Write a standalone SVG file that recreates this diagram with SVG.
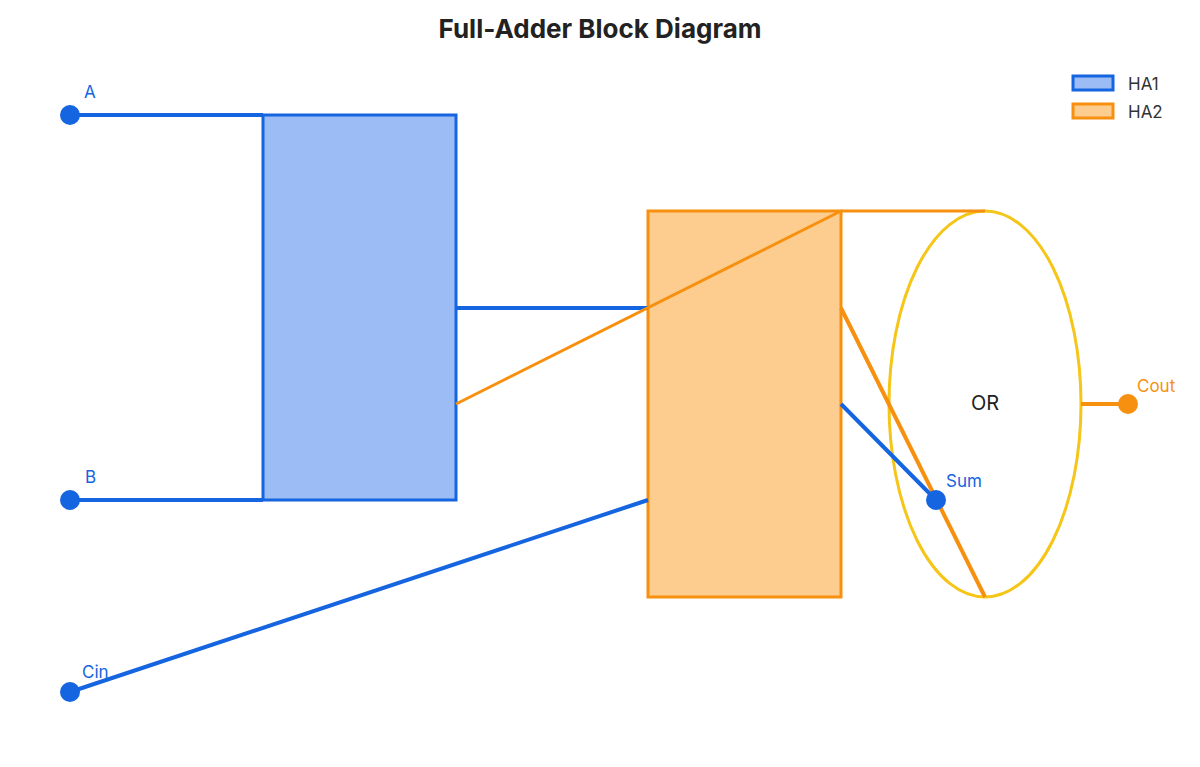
<svg xmlns="http://www.w3.org/2000/svg" width="1200" height="767" viewBox="0 0 1200 767">
<style>
text{font-family:Inter,"Liberation Sans",sans-serif}
.b{stroke:#1565e0}.o{stroke:#f7900e}
.lbl{font-size:17px}
</style>
<rect width="1200" height="767" fill="#fff"/>
<text x="600" y="38" text-anchor="middle" font-size="26" font-weight="bold" fill="#222">Full-Adder Block Diagram</text>
<g id="HA1"><rect x="263" y="115" width="193" height="385" fill="#9bbcf5" stroke="#1565e0" stroke-width="3"/></g>
<g id="HA2"><rect x="648" y="211" width="193" height="386" fill="#fdcd90" stroke="#f7900e" stroke-width="3"/></g>
<g id="OR"><ellipse cx="985" cy="404" rx="96" ry="193" fill="none" stroke="#f5c518" stroke-width="3"/><text x="985" y="410" text-anchor="middle" font-size="20" fill="#222">OR</text></g>
<g id="connectors" fill="none" stroke-width="4">
<line class="b" x1="70" y1="115" x2="263" y2="115"/>
<line class="b" x1="70" y1="500" x2="263" y2="500"/>
<line class="b" x1="70" y1="692" x2="648" y2="500"/>
<line class="b" x1="456" y1="308" x2="648" y2="308"/>
<line class="o" x1="456" y1="404" x2="841" y2="211" stroke-width="3"/>
<line class="o" x1="841" y1="211" x2="985" y2="211" stroke-width="3"/>
<line class="o" x1="841" y1="308" x2="985" y2="597"/>
<line class="b" x1="841" y1="404" x2="936" y2="500"/>
<line class="o" x1="1081" y1="404" x2="1128" y2="404"/>
</g>
<g id="A"><circle cx="70" cy="115" r="10" fill="#1565e0"/><text class="lbl" x="84" y="98" fill="#1565e0">A</text></g>
<g id="B"><circle cx="70" cy="500" r="10" fill="#1565e0"/><text class="lbl" x="85" y="483" fill="#1565e0">B</text></g>
<g id="Cin"><circle cx="70" cy="692" r="10" fill="#1565e0"/><text class="lbl" x="82" y="678" fill="#1565e0">Cin</text></g>
<g id="Sum"><circle cx="936" cy="500" r="10" fill="#1565e0"/><text class="lbl" x="946" y="487" fill="#1565e0">Sum</text></g>
<g id="Cout"><circle cx="1128" cy="404" r="10" fill="#f7900e"/><text class="lbl" x="1137" y="392" fill="#f7900e">Cout</text></g>
<g id="legend">
<rect x="1073" y="76" width="40" height="14" fill="#9bbcf5" stroke="#1565e0" stroke-width="3"/>
<text x="1128" y="90" font-size="17" fill="#333">HA1</text>
<rect x="1073" y="104" width="40" height="14" fill="#fdcd90" stroke="#f7900e" stroke-width="3"/>
<text x="1128" y="118" font-size="17" fill="#333">HA2</text>
</g>
</svg>
